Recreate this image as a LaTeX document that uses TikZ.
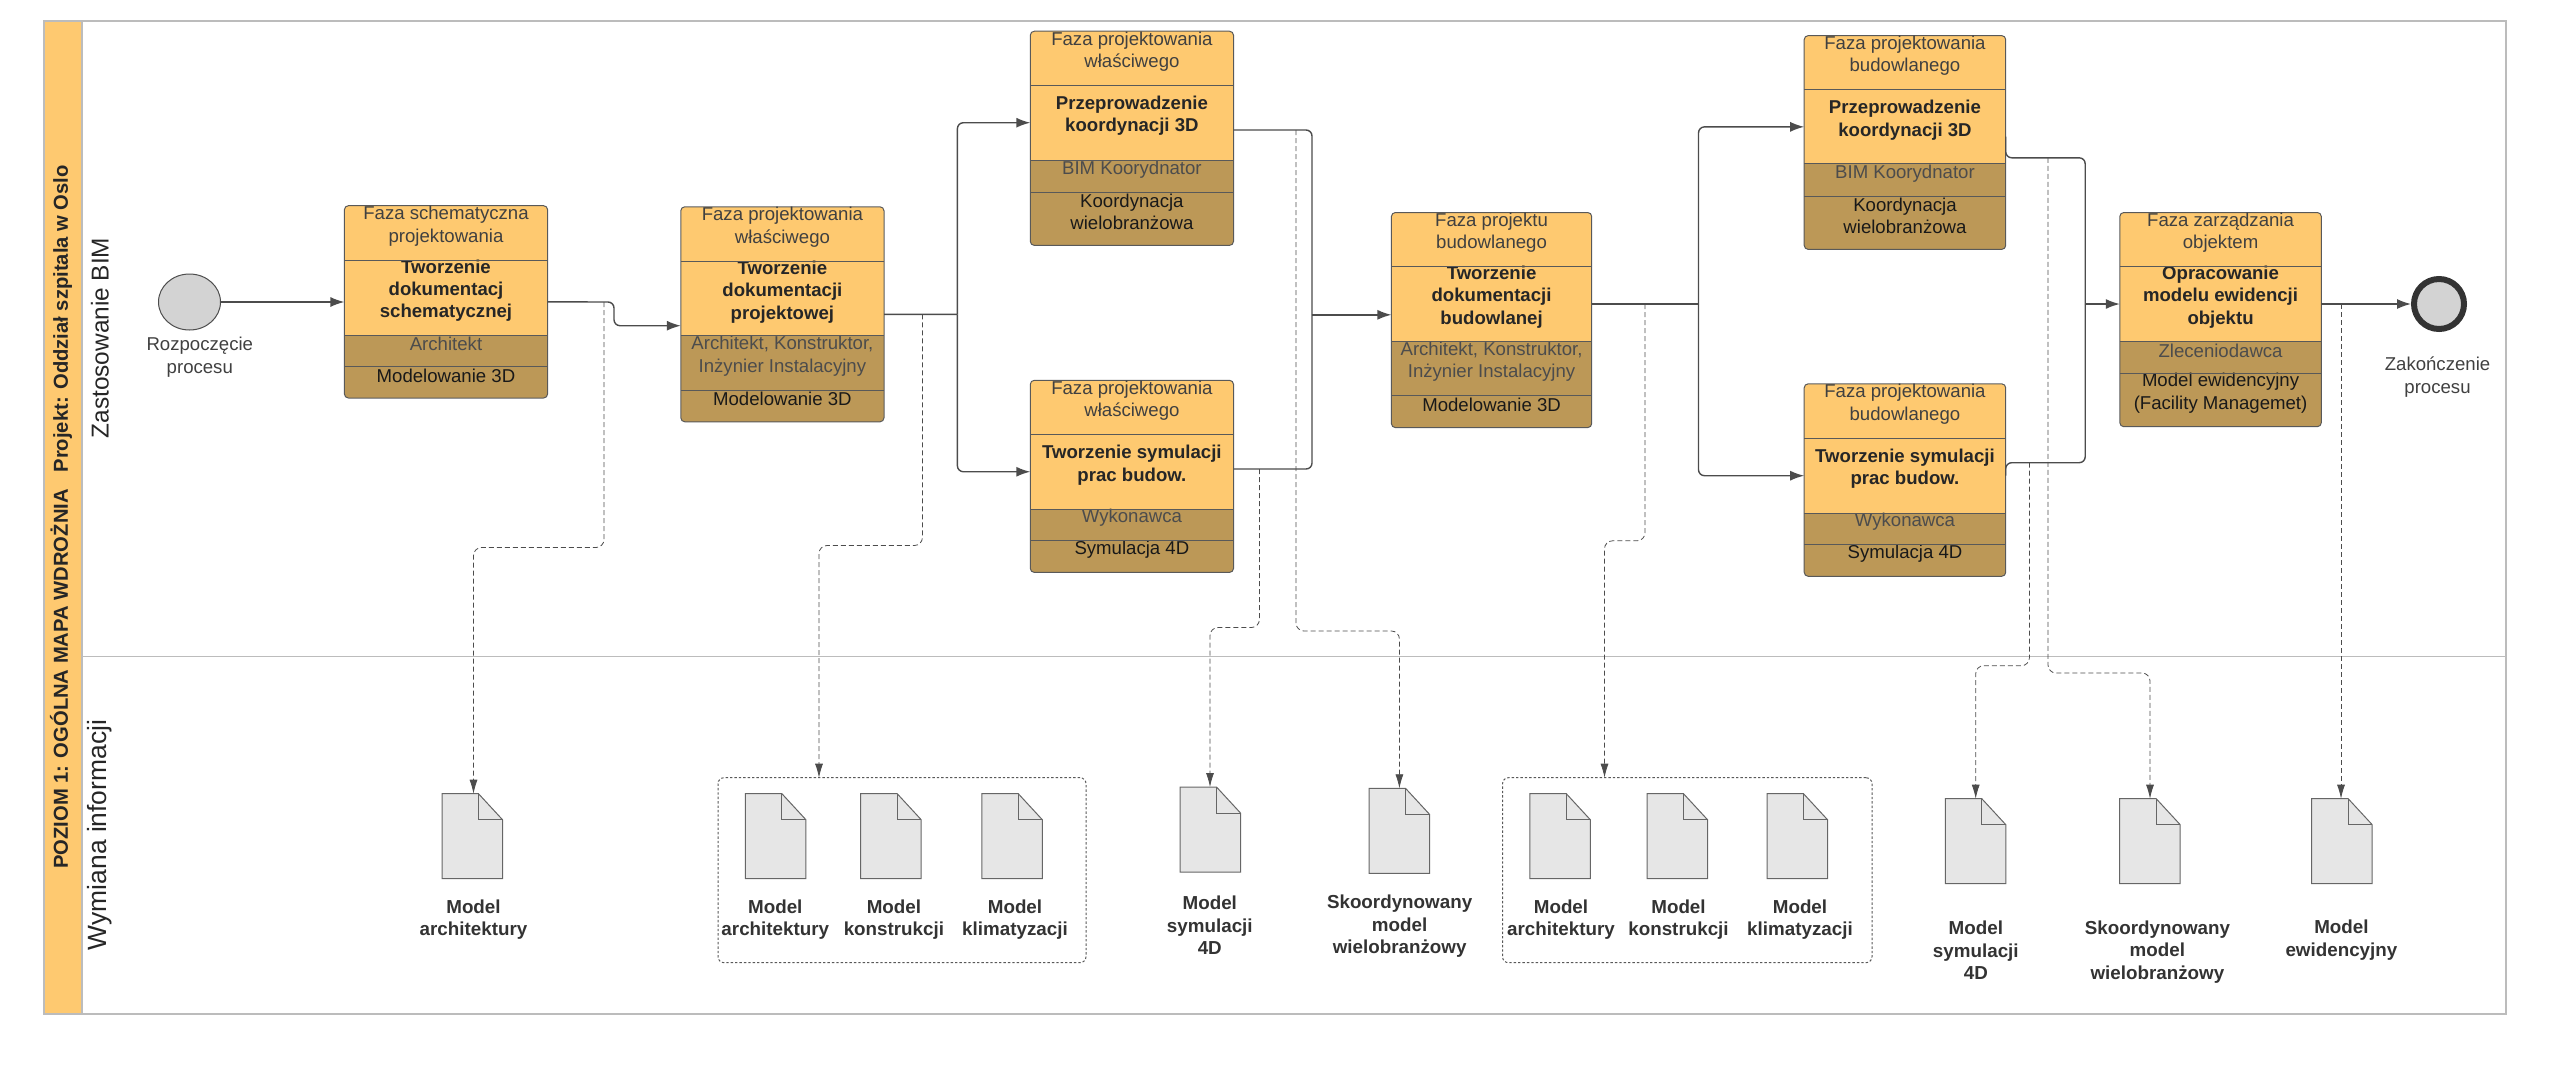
\documentclass[tikz,border=0pt]{standalone}
\usepackage{fontspec}
\setmainfont{Liberation Sans}
\usetikzlibrary{arrows.meta, calc, fit, shapes.geometric}

\definecolor{phasetop}{HTML}{FEC970}
\definecolor{phasebot}{HTML}{BC9857}
\definecolor{frameline}{HTML}{BCBCBC}
\definecolor{docfill}{HTML}{E6E6E6}
\definecolor{startfill}{HTML}{D3D3D3}

\tikzset{
    flow/.style={draw=black!70, line width=0.7pt, rounded corners=3pt, -{Latex[length=7pt,width=5pt]}},
    flowline/.style={draw=black!70, line width=0.7pt, rounded corners=3pt},
    infoflow/.style={draw=black!70, line width=0.4pt, dash pattern=on 2.5pt off 1.5pt, rounded corners=4pt, -{Latex[length=7pt,width=4pt]}},
    section/.style={inner sep=0pt, outer sep=0pt, align=center, font=\fontsize{9.3}{11.2}\selectfont},
    boxframe/.style={draw=black!65, line width=0.5pt, rounded corners=2pt, inner sep=0pt, outer sep=0pt},
    sepline/.style={draw=black!65, line width=0.5pt},
    caption/.style={align=center, inner sep=0pt, text=black!75, font=\fontsize{9.3}{11.2}\selectfont},
    doclabel/.style={align=center, inner sep=0pt, text=black!80, font=\bfseries\fontsize{9.4}{11.2}\selectfont},
    docframe/.style={inner sep=0pt, outer sep=0pt},
    group/.style={draw=black!65, line width=0.5pt, dash pattern=on 1.2pt off 1pt, rounded corners=3pt, inner sep=0pt, outer sep=0pt},
    lanetitle/.style={rotate=90, inner sep=0pt, text=black!85},
}

\def\readgeom#1/#2/#3/#4/#5/#6/#7\relax{\def\bxl{#1}\def\bxr{#2}\def\bya{#3}\def\byb{#4}\def\byc{#5}\def\byd{#6}\def\bye{#7}}

% name, left/right/y0/y1/y2/y3/y4, four texts
\newcommand{\phasebox}[6]{
    \readgeom#2\relax
    \begin{scope}
        \clip[rounded corners=2pt] (\bxl,\bya) rectangle (\bxr,\bye);
        \fill[phasetop] (\bxl,\bya) rectangle (\bxr,\byc);
        \fill[phasebot] (\bxl,\byc) rectangle (\bxr,\bye);
    \end{scope}
    \node[boxframe, fit={(\bxl,\bya) (\bxr,\bye)}] (#1) {};
    \node[section, text=black!75, fit={(\bxl,\bya) (\bxr,\byb)}] (#1a) {#3};
    \node[section, text=black!85, font=\bfseries\fontsize{9.3}{11.2}\selectfont, fit={(\bxl,\byb) (\bxr,\byc)}] (#1b) {#4};
    \node[section, text=black!70, fit={(\bxl,\byc) (\bxr,\byd)}] (#1c) {#5};
    \node[section, text=black!90, fit={(\bxl,\byd) (\bxr,\bye)}] (#1d) {#6};
    \draw[sepline] (#1a.south west) -- (#1a.south east);
    \draw[sepline] (#1b.south west) -- (#1b.south east);
    \draw[sepline] (#1c.south west) -- (#1c.south east);
}

% name, left, top
\newcommand{\docicon}[3]{
    \node[docframe, fit={(#2,#3) ($(#2,#3)+(60.5,85)$)}] (#1) {};
    \filldraw[fill=docfill, draw=black!60, line width=0.5pt]
        (#1.north west) -- ($(#1.north west)+(36.5,0)$) -- ($(#1.north west)+(60.5,26)$)
        -- (#1.south east) -- (#1.south west) -- cycle;
    \draw[draw=black!60, line width=0.5pt] ($(#1.north west)+(36.5,0)$) -- ($(#1.north west)+(36.5,26)$) -- ($(#1.north west)+(60.5,26)$);
}

\begin{document}
\begin{tikzpicture}[x=0.5pt, y=-0.5pt]
    \useasboundingbox (0,0) rectangle (2560,1067);

    % pool and lanes
    \fill[phasetop] (44,21) rectangle (82,1014);
    \draw[frameline, line width=1pt] (44,21) rectangle (2506,1014);
    \draw[frameline, line width=0.8pt] (82,21) -- (82,1014);
    \draw[frameline, line width=0.8pt] (82,656.3) -- (2506,656.3);

    \node[lanetitle, font=\bfseries\fontsize{10.1}{12}\selectfont] (pool) at (61,517) {POZIOM 1: OGÓLNA MAPA WDROŻNIA\ \ \ Projekt: Oddział szpitala w Oslo};
    \node[lanetitle, font=\fontsize{12.2}{14}\selectfont] (lanea) at (100,338) {Zastosowanie BIM};
    \node[lanetitle, font=\fontsize{13.2}{15}\selectfont] (laneb) at (100,835) {Wymiana informacji};

    % events
    \node[ellipse, draw=black!70, line width=0.5pt, fill=startfill, minimum width=31pt, minimum height=28pt, inner sep=0pt] (start) at (189.5,302) {};
    \node[caption] (startlab) at (199.8,357) {Rozpoczęcie\\procesu};
    \node[circle, draw=black!80, line width=3pt, fill=startfill, minimum size=25pt, inner sep=0pt] (end) at (2439,304) {};
    \node[caption] (endlab) at (2437.5,377) {Zakończenie\\procesu};

    % phases
    \phasebox{sch}{344.4/547.6/205.7/260/335/366.4/398}{Faza schematyczna\\projektowania}{Tworzenie\\dokumentacj\\schematycznej}{Architekt}{Modelowanie 3D}
    \phasebox{prj}{680.8/884/206.8/261.4/335.7/390/421.8}{Faza projektowania\\właściwego}{Tworzenie\\dokumentacji\\projektowej}{Architekt, Konstruktor,\\Inżynier Instalacyjny}{Modelowanie 3D}
    \phasebox{koa}{1030.3/1233.5/31.2/85.4/160/192/245.4}{Faza projektowania\\właściwego}{Przeprowadzenie\\koordynacji 3D}{BIM Koorydnator}{Koordynacja\\wielobranżowa}
    \phasebox{syma}{1030.3/1233.5/380.3/434.5/509/540.8/572.4}{Faza projektowania\\właściwego}{Tworzenie symulacji\\prac budow.}{Wykonawca}{Symulacja 4D}
    \phasebox{bud}{1391.4/1591.7/212.5/266.3/341.3/395.5/427.6}{Faza projektu\\budowlanego}{Tworzenie\\dokumentacji\\budowlanej}{Architekt, Konstruktor,\\Inżynier Instalacyjny}{Modelowanie 3D}
    \phasebox{kob}{1804.2/2005.7/35.6/89.8/163.9/196/249.4}{Faza projektowania\\budowlanego}{Przeprowadzenie\\koordynacji 3D}{BIM Koorydnator}{Koordynacja\\wielobranżowa}
    \phasebox{symb}{1804.2/2005.7/383.8/438.4/513/544.7/576.3}{Faza projektowania\\budowlanego}{Tworzenie symulacji\\prac budow.}{Wykonawca}{Symulacja 4D}
    \phasebox{fm}{2119.8/2321.3/212.5/266.3/341.3/373/426.7}{Faza zarządzania\\objektem}{Opracowanie\\modelu ewidencji\\objektu}{Zleceniodawca}{Model ewidencyjny\\(Facility Managemet)}

    % documents
    \docicon{doca}{442}{793.7}
    \docicon{docb}{745.4}{793.7}
    \docicon{docc}{860.7}{793.7}
    \docicon{docd}{981.8}{793.7}
    \docicon{doce}{1180}{787}
    \docicon{docf}{1369}{788.3}
    \docicon{docg}{1529.8}{793.7}
    \docicon{doch}{1647}{793.7}
    \docicon{doci}{1767}{793.7}
    \docicon{docj}{1945.3}{798.7}
    \docicon{dock}{2119.7}{798.7}
    \docicon{docl}{2311.7}{798.7}

    \node[doclabel] (laba) at (473.5,919.6) {Model\\architektury};
    \node[doclabel] (labb) at (775.3,919.6) {Model\\architektury};
    \node[doclabel] (labc) at (893.9,919.6) {Model\\konstrukcji};
    \node[doclabel] (labd) at (1015,919.6) {Model\\klimatyzacji};
    \node[doclabel] (labe) at (1209.8,925.5) {Model\\symulacji\\4D};
    \node[doclabel] (labf) at (1399.6,926.5) {Skoordynowany\\model\\wielobranżowy};
    \node[doclabel] (labg) at (1561,919.6) {Model\\architektury};
    \node[doclabel] (labh) at (1678.5,919.6) {Model\\konstrukcji};
    \node[doclabel] (labi) at (1800,919.6) {Model\\klimatyzacji};
    \node[doclabel] (labj) at (1975.8,950.5) {Model\\symulacji\\4D};
    \node[doclabel] (labk) at (2157.4,952) {Skoordynowany\\model\\wielobranżowy};
    \node[doclabel] (labl) at (2341.4,940) {Model\\ewidencyjny};

    \node[group, fit={(718,777.7) (1086,962.7)}] (grpa) {};
    \node[group, fit={(1502.5,777.7) (1872,962.7)}] (grpb) {};

    % turning points of the process flow
    \coordinate (ja) at (614,302);
    \coordinate (jb) at (614,325.7);
    \coordinate (forka) at (957.4,314.4);
    \coordinate (oka) at (1312,130);
    \coordinate (oma) at (1312,469);
    \coordinate (mrga) at (1312,314.8);
    \coordinate (forkb) at (1698.5,304);
    \coordinate (okb) at (2085.2,157.8);
    \coordinate (omb) at (2085.2,462.7);
    \coordinate (mrgb) at (2085.2,304);

    % process flow
    \draw[flow] (start) -- (sch.west |- start);
    \draw[flow] (sch.east) -- (ja) -- (jb) -- (prj.west |- jb);
    \draw[flowline] (prj.east) -- (forka);
    \draw[flow] (forka) -- (forka |- koab) -- (koab) ;
    \draw[flow] (forka) |- (symab);
    \draw[flowline] (koa.east |- oka) -- (oka) -- (mrga);
    \draw[flowline] (syma.east |- oma) -- (oma) -- (mrga);
    \draw[flow] (mrga) -- (bud.west |- mrga);
    \draw[flowline] (bud.east |- forkb) -- (forkb);
    \draw[flow] (forkb) |- (kobb);
    \draw[flow] (forkb) |- (symbb);
    \draw[flowline] (kob.east |- 0,136.6) -- (kob.east |- okb) -- (okb) -- (mrgb);
    \draw[flowline] (symb.east |- 0,475.7) -- (symb.east |- omb) -- (omb) -- (mrgb);
    \draw[flow] (mrgb) -- (fm.west |- mrgb);
    \draw[flow] (fm.east |- end) -- (end);

    % information flow
    \coordinate (ia) at (604,302);
    \coordinate (ib) at (922.4,314.4);
    \coordinate (ic) at (1259.4,469);
    \coordinate (id) at (1296,130);
    \coordinate (ie) at (1645,304);
    \coordinate (if) at (2029.4,462.7);
    \coordinate (ig) at (2048,157.8);
    \coordinate (ih) at (2341,304);
    \draw[infoflow] (ia) -- (604,547.5) -- (473.5,547.5) -- (473.5,793.7);
    \draw[infoflow] (ib) -- (922.4,545.5) -- (819,545.5) -- (grpa.north -| 819,0);
    \draw[infoflow] (ic) -- (1259.4,627.5) -- (1210,627.5) -- (1210,787);
    \draw[infoflow] (id) -- (1296,631) -- (1399.4,631) -- (1399.4,788.3);
    \draw[infoflow] (ie) -- (1645,540.8) -- (1604.5,540.8) -- (grpb.north -| 1604.5,0);
    \draw[infoflow] (if) -- (2029.4,665.7) -- (1975.7,665.7) -- (1975.7,798.7);
    \draw[infoflow] (ig) -- (2048,673) -- (2150,673) -- (2150,798.7);
    \draw[infoflow] (ih) -- (2341,798.7);
\end{tikzpicture}
\end{document}
